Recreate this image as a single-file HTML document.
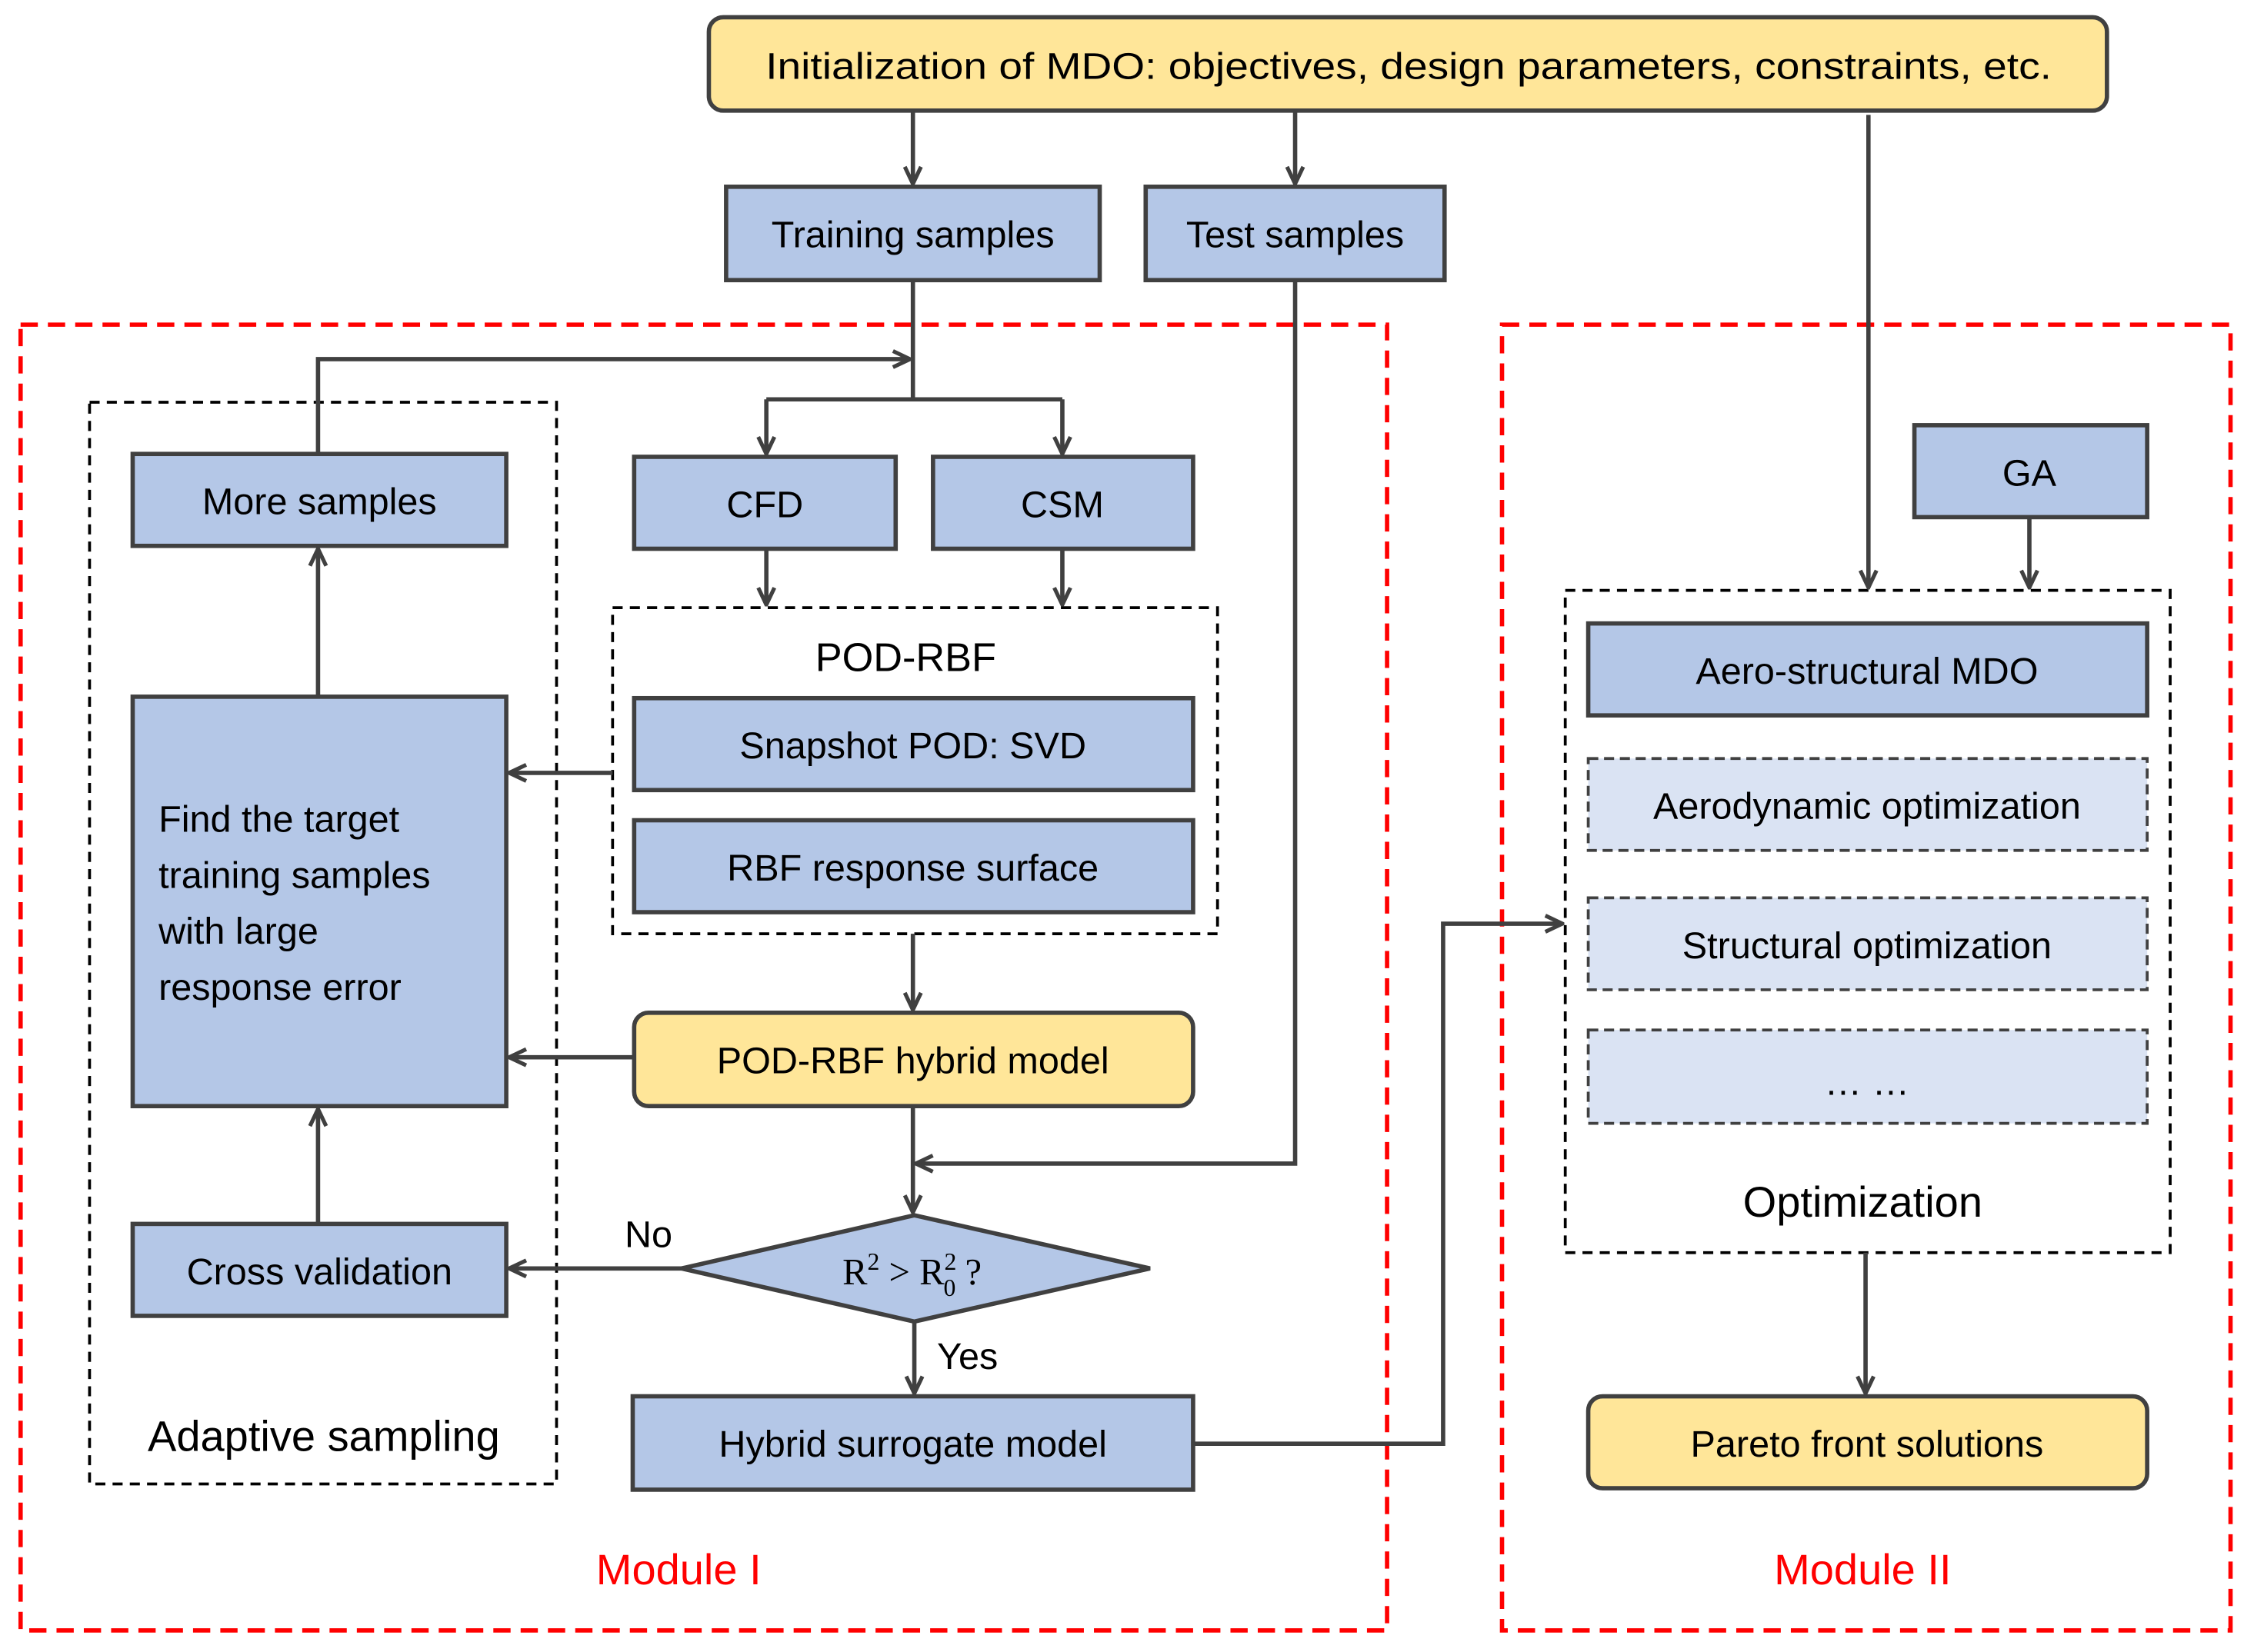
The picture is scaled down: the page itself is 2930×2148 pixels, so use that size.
<!DOCTYPE html>
<html><head><meta charset="utf-8"><style>
html,body{margin:0;padding:0;background:#fff}
svg{display:block}
text{font-family:"Liberation Sans",sans-serif;fill:#000}
</style></head><body>
<svg width="2930" height="2148" viewBox="0 0 1568 1150" xmlns="http://www.w3.org/2000/svg">
<defs>
<marker id="a" viewBox="0 0 12 12" refX="11" refY="6" markerWidth="15" markerHeight="15" markerUnits="userSpaceOnUse" orient="auto">
<path d="M1.5,1.5 L11,6 L1.5,10.5" fill="none" stroke="#404040" stroke-width="2.2"/>
</marker>
</defs>
<rect width="1568" height="1150" fill="#fff"/>
<g fill="none" stroke="#ff0000" stroke-width="3" stroke-dasharray="12,7">
<rect x="14" y="226" width="951" height="909"/>
<rect x="1045" y="226" width="507" height="909"/>
</g>
<g fill="none" stroke="#000" stroke-width="2" stroke-dasharray="7,5">
<rect x="62" y="280" width="325" height="753"/>
<rect x="426" y="423" width="421" height="227"/>
<rect x="1089" y="411" width="421" height="461"/>
</g>
<g stroke="#404040" stroke-width="3" fill="none">
<rect x="493" y="12" width="973" height="65" rx="10" fill="#ffe699"/>
<rect x="505" y="130" width="260" height="65" fill="#b4c7e7"/>
<rect x="797" y="130" width="208" height="65" fill="#b4c7e7"/>
<rect x="92" y="316" width="260" height="64" fill="#b4c7e7"/>
<rect x="92" y="485" width="260" height="285" fill="#b4c7e7"/>
<rect x="92" y="852" width="260" height="64" fill="#b4c7e7"/>
<rect x="441" y="318" width="182" height="64" fill="#b4c7e7"/>
<rect x="649" y="318" width="181" height="64" fill="#b4c7e7"/>
<rect x="441" y="486" width="389" height="64" fill="#b4c7e7"/>
<rect x="441" y="571" width="389" height="64" fill="#b4c7e7"/>
<rect x="441" y="705" width="389" height="65" rx="10" fill="#ffe699"/>
<polygon points="474,883 636,846 800,883 636,920" fill="#b4c7e7"/>
<rect x="440" y="972" width="390" height="65" fill="#b4c7e7"/>
<rect x="1332" y="296" width="162" height="64" fill="#b4c7e7"/>
<rect x="1105" y="434" width="389" height="64" fill="#b4c7e7"/>
<rect x="1105" y="972" width="389" height="64" rx="10" fill="#ffe699"/>
</g>
<g stroke="#404040" stroke-width="2" stroke-dasharray="7,4" fill="#dae3f3">
<rect x="1105" y="528" width="389" height="64"/>
<rect x="1105" y="625" width="389" height="64"/>
<rect x="1105" y="717" width="389" height="65"/>
</g>
<g stroke="#404040" stroke-width="3" fill="none" marker-end="url(#a)">
<path d="M635,77 V128"/>
<path d="M901,77 V128"/>
<path d="M1300,80 V409"/>
<path d="M533,278 V316"/>
<path d="M739,278 V316"/>
<path d="M221,316 V250 H633"/>
<path d="M221,485 V382"/>
<path d="M221,852 V772"/>
<path d="M533,382 V421"/>
<path d="M739,382 V421"/>
<path d="M426,538 H354"/>
<path d="M635,650 V703"/>
<path d="M441,736 H354"/>
<path d="M635,770 V844"/>
<path d="M901,195 V810 H637"/>
<path d="M474,883 H354"/>
<path d="M636,920 V970"/>
<path d="M830,1005 H1004 V643 H1087"/>
<path d="M1412,360 V409"/>
<path d="M1298,872 V970"/>
</g>
<path d="M635,195 V278 M533,278 H739" stroke="#404040" stroke-width="3" fill="none"/>
<g font-size="26" text-anchor="middle">
<text x="980" y="55" textLength="895" lengthAdjust="spacingAndGlyphs">Initialization of MDO: objectives, design parameters, constraints, etc.</text>
<text x="635" y="172">Training samples</text>
<text x="901" y="172">Test samples</text>
<text x="222" y="358">More samples</text>
<text x="532" y="360">CFD</text>
<text x="739" y="360">CSM</text>
<text x="630" y="467" font-size="28">POD-RBF</text>
<text x="635" y="528">Snapshot POD: SVD</text>
<text x="635" y="613">RBF response surface</text>
<text x="635" y="747">POD-RBF hybrid model</text>
<text x="222" y="894">Cross validation</text>
<text x="635" y="1014">Hybrid surrogate model</text>
<text x="1412" y="338">GA</text>
<text x="1299" y="476">Aero-structural MDO</text>
<text x="1299" y="570">Aerodynamic optimization</text>
<text x="1299" y="667">Structural optimization</text>
<text x="1299" y="762">… …</text>
<text x="1299" y="1014">Pareto front solutions</text>
<text x="225" y="1010" font-size="30">Adaptive sampling</text>
<text x="1296" y="847" font-size="30">Optimization</text>
<text x="472" y="1103" font-size="30" style="fill:#ff0000">Module I</text>
<text x="1296" y="1103" font-size="30" style="fill:#ff0000">Module II</text>
<text x="451" y="868">No</text>
<text x="673" y="953">Yes</text>
</g>
<g font-size="26">
<text x="110" y="579">Find the target</text>
<text x="110" y="618">training samples</text>
<text x="110" y="657">with large</text>
<text x="110" y="696">response error</text>
</g>
<text x="586" y="894" font-size="26" style="font-family:'Liberation Serif',serif">R<tspan dy="-10" font-size="17">2</tspan><tspan dy="10"> &gt; R</tspan><tspan dy="-10" font-size="17">2</tspan><tspan dx="-9" dy="18" font-size="17">0</tspan><tspan dy="-8"> ?</tspan></text>
</svg>
</body></html>
